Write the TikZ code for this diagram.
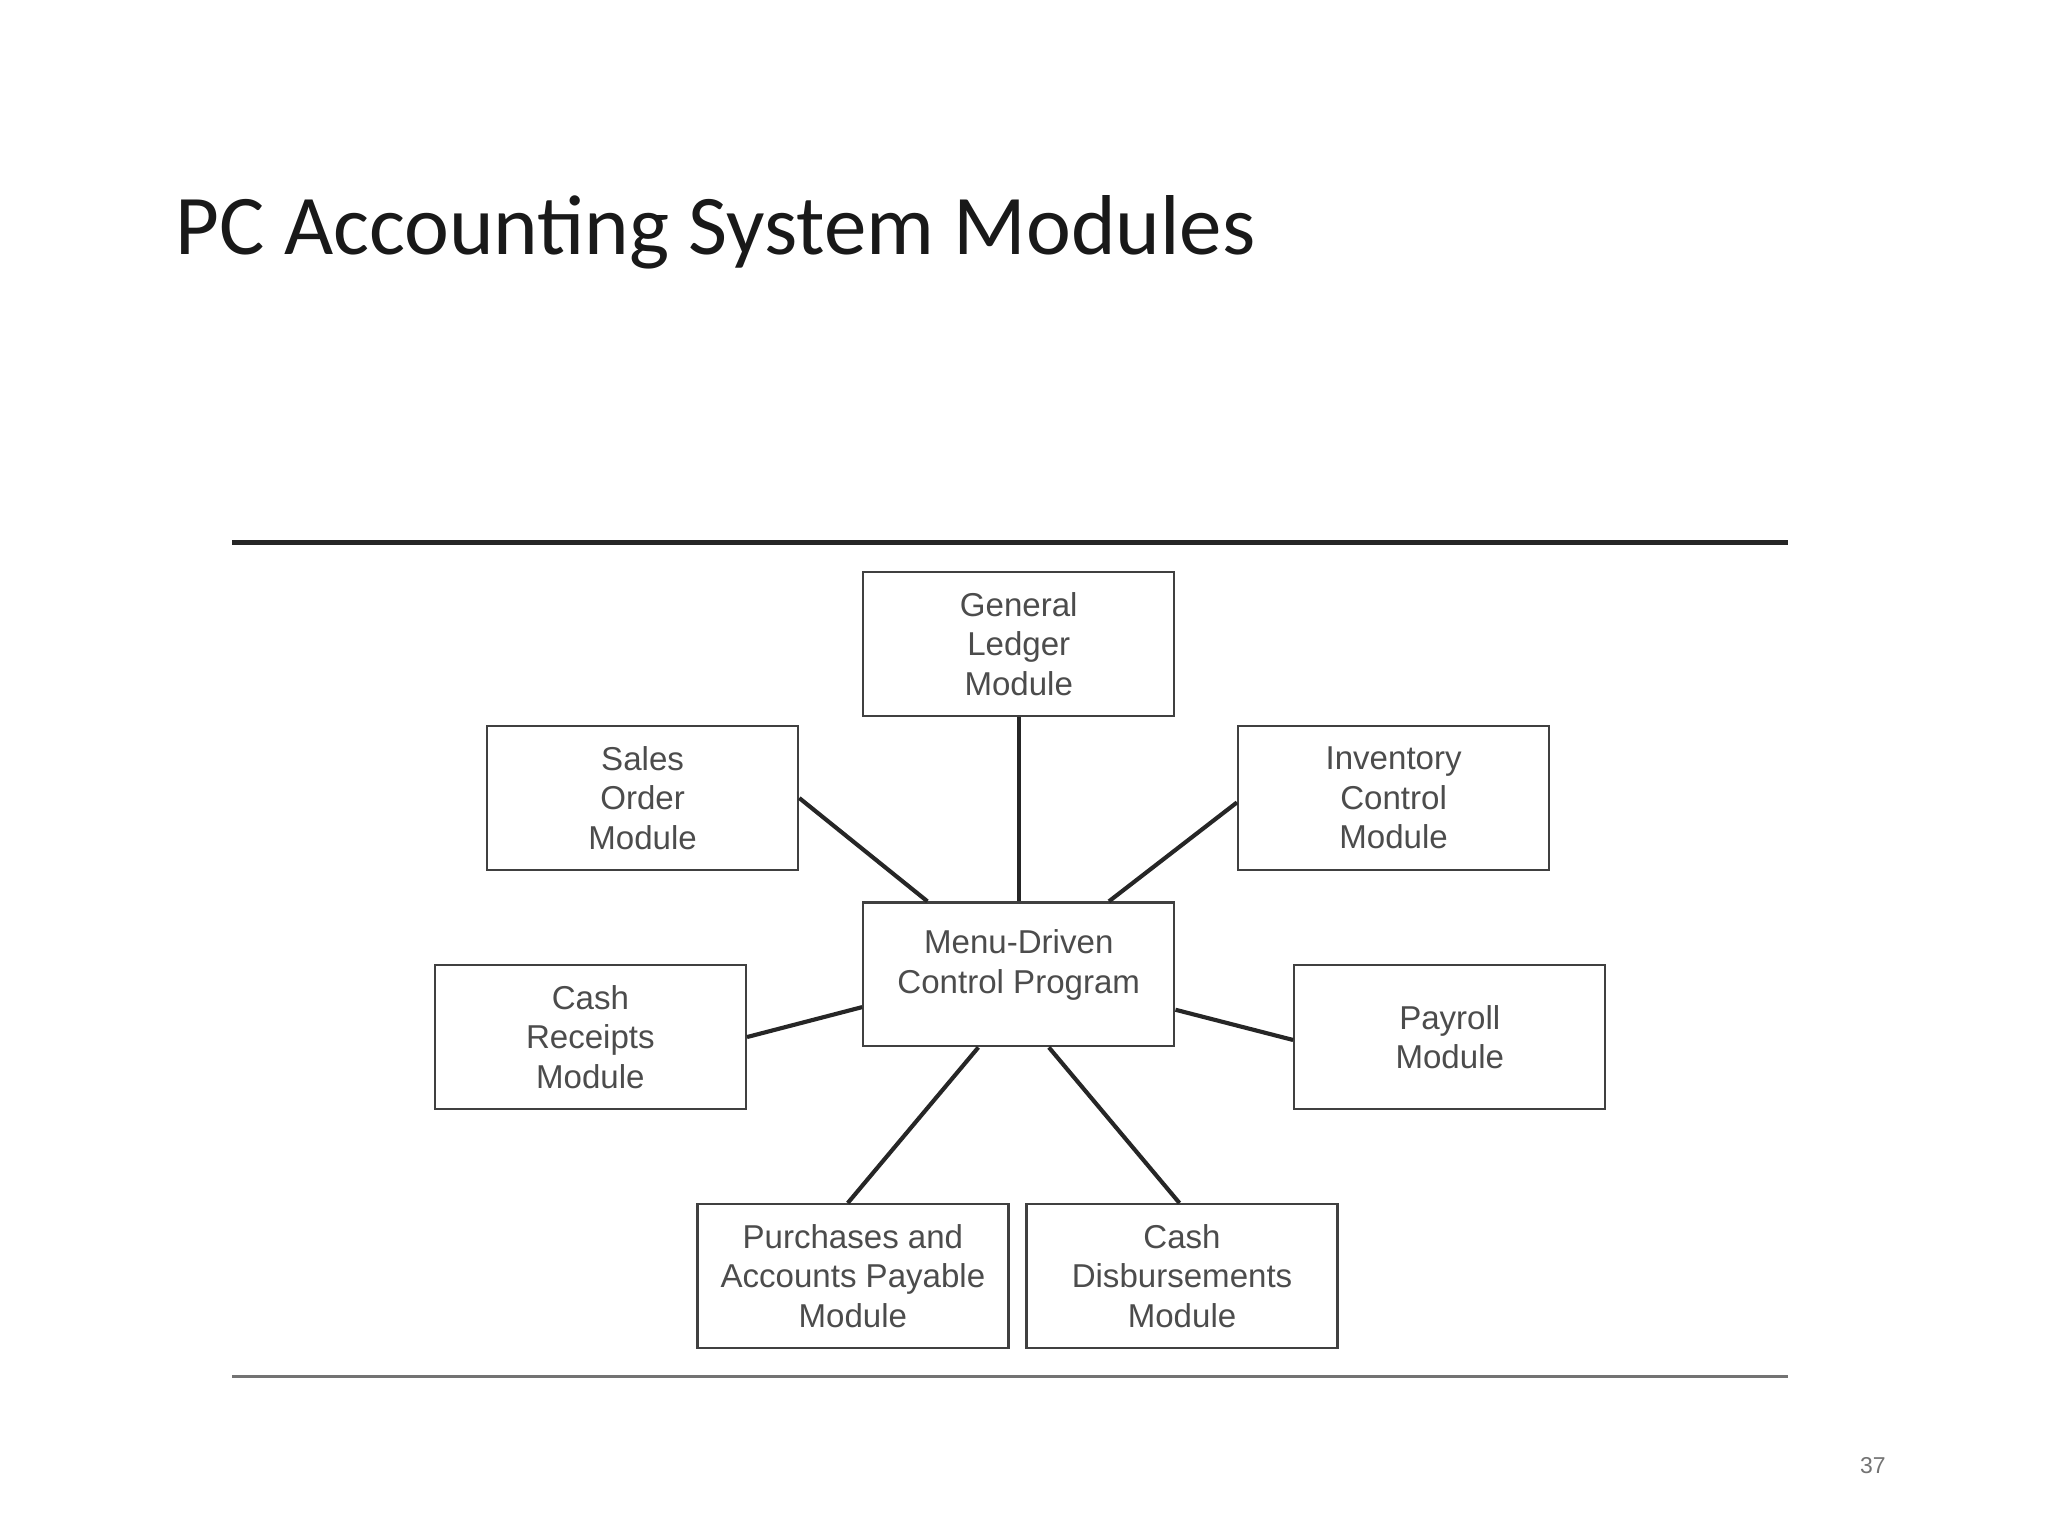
\documentclass[tikz,border=0pt]{standalone}
\usepackage{fontspec}
\usetikzlibrary{calc}
\setmainfont{Liberation Sans}
\newfontfamily\titlefont{Carlito}
\begin{document}
\begin{tikzpicture}[x=0.01cm,y=-0.01cm,
  mod/.style={draw=black!75,line width=0.5pt,minimum width=2.38cm,minimum height=1.10cm,align=center,font=\fontsize{7.2}{8.6}\selectfont,text=black!70,inner sep=1pt},
  conn/.style={line width=0.9pt,black!85}]
\useasboundingbox[fill=white] (0,0) rectangle (1568,1176);
\node[anchor=base west,font=\titlefont\fontsize{18.5}{22}\selectfont,text=black!90] (title) at (122,195) {PC Accounting System Modules};
\draw[line width=1.1pt,black!85] (178,415) coordinate (t1) -- (1369,415) coordinate (t2);
\draw[line width=0.8pt,black!55] (178,1054) coordinate (b1) -- (1369,1054) coordinate (b2);
\node[mod] (gl) at (780,493) {General\\Ledger\\Module};
\node[mod] (so) at (492,611) {Sales\\Order\\Module};
\node[mod] (ic) at (1067,611) {Inventory\\Control\\Module};
\node[mod] (menu) at (780,746) {Menu-Driven\\Control Program\\[-3pt]};
\node[mod] (cr) at (452,794) {Cash\\Receipts\\Module};
\node[mod] (pay) at (1110,794) {Payroll\\Module};
\node[mod] (pur) at (653,977) {Purchases and\\Accounts Payable\\Module};
\node[mod] (cd) at (905,977) {Cash\\Disbursements\\Module};
\draw[conn] (gl.south) -- (menu.north);
\draw[conn] ($(so.north east)!0.5!(so.south east)$) -- ($(menu.north west)+(50,0)$);
\draw[conn] ($(ic.north west)!0.53!(ic.south west)$) -- ($(menu.north west)+(189,0)$);
\draw[conn] ($(cr.north east)!0.5!(cr.south east)$) -- ($(menu.north west)+(0,81)$);
\draw[conn] ($(pay.north west)!0.52!(pay.south west)$) -- ($(menu.north east)+(0,83)$);
\draw[conn] ($(pur.north west)+(116,0)$) -- ($(menu.south west)+(89,0)$);
\draw[conn] ($(cd.north west)+(118,0)$) -- ($(menu.south west)+(143,0)$);
\node[font=\fontsize{5}{6}\selectfont,text=black!55] (pg) at (1434,1122) {37};
\end{tikzpicture}
\end{document}
